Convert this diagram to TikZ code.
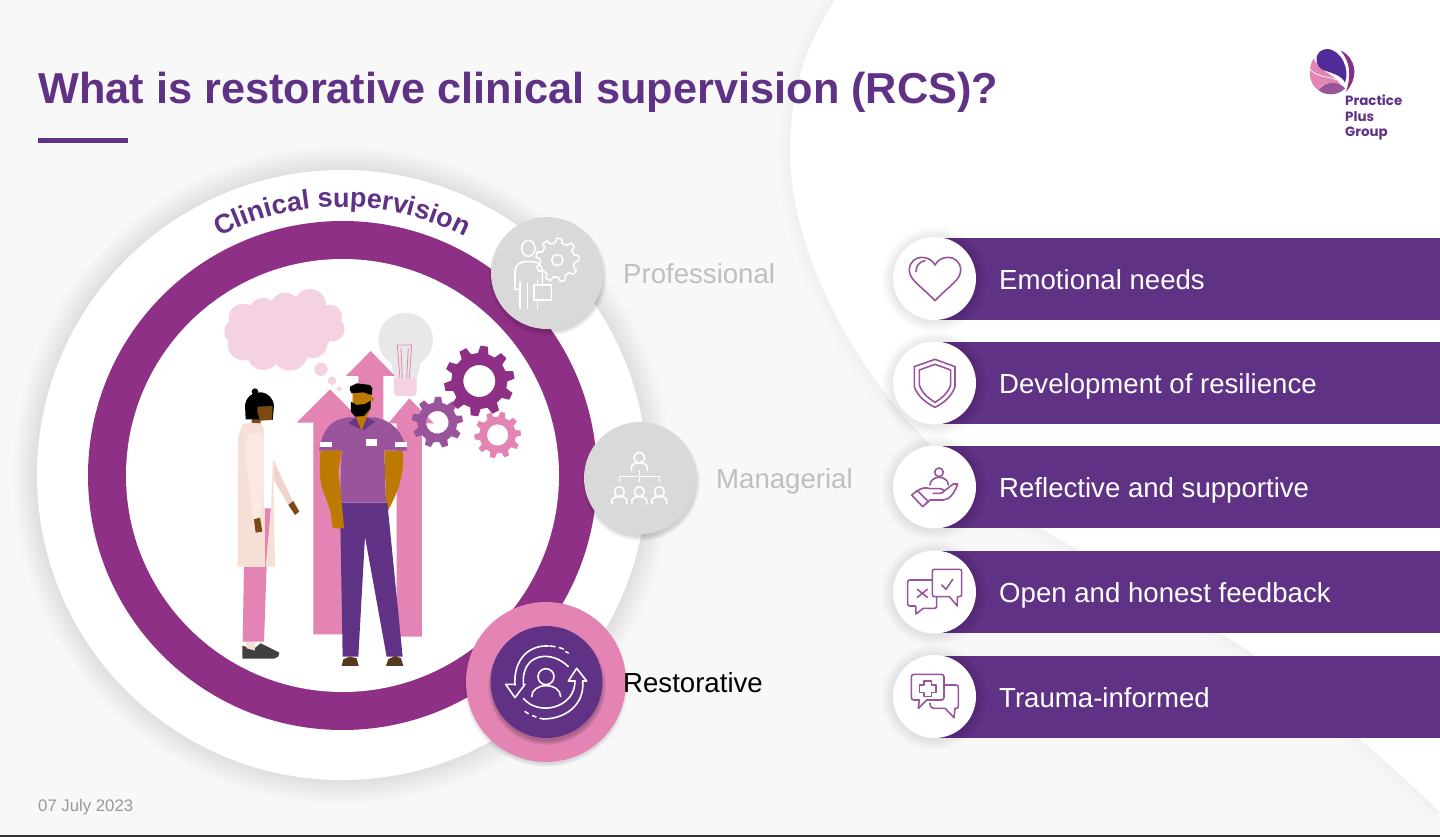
\documentclass[tikz,border=0pt]{standalone}
\usepackage{fontspec}
\setmainfont{Liberation Sans}
\newfontfamily\logofont{Poppins}
\usetikzlibrary{decorations.text}

\definecolor{deeppurple}{HTML}{5F3285}
\definecolor{ringpurple}{HTML}{8E3086}
\definecolor{midpurple}{HTML}{99549B}
\definecolor{pinkmain}{HTML}{E384B5}
\definecolor{pinkpale}{HTML}{F4D2E4}
\definecolor{greydisc}{HTML}{D9D9D9}
\definecolor{greytext}{HTML}{BFBFBF}
\definecolor{pagegrey}{HTML}{F8F8F8}
\definecolor{skinbrown}{HTML}{7B4A12}
\definecolor{skinamber}{HTML}{BD7A00}
\definecolor{coatpeach}{HTML}{F6E0D6}

\tikzset{
  disc/.style={circle,inner sep=0pt,minimum size=#1},
  bigtext/.style={anchor=base west,inner sep=0pt,font=\fontsize{27.6}{30}\selectfont},
  whitetext/.style={bigtext,text=white},
  iconline/.style={draw=midpurple,line width=1.6pt,line join=round,line cap=round},
  whiteline/.style={draw=white,line width=1.6pt,line join=round,line cap=round},
  logotext/.style={anchor=base west,inner sep=0pt,text=deeppurple,font=\logofont\bfseries\fontsize{13.4}{14}\selectfont},
}

\newcommand{\whiteedge}{(835,0) .. controls (805,45) and (790,95) .. (790,150)
  .. controls (790,230) and (830,325) .. (893,403)
  .. controls (935,455) and (985,498) .. (1040,528) -- (1222,634)
  .. controls (1285,672) and (1375,750) .. (1440,812)}
\newcommand{\softglow}[5]{\foreach \d in {1,2,...,#4} \fill[black,opacity=#5] (#1,#2) circle ({#3+\d});}
\newcommand{\gearshape}[7]{\pgfmathsetmacro{\gearstep}{360/#7}
  \path[shift={(#2,#3)},even odd rule,#1] ({-0.3*\gearstep}:#5)
    \foreach \tooth in {1,...,#7} {
      -- ({(\tooth-1-0.17)*\gearstep}:#4) -- ({(\tooth-1+0.17)*\gearstep}:#4)
      -- ({(\tooth-1+0.3)*\gearstep}:#5) -- ({(\tooth-1+0.7)*\gearstep}:#5)
    } -- cycle (0,0) circle (#6);}
\newcommand{\personmark}[3]{\draw[whiteline] (#1,#2) circle (#3);
  \draw[whiteline] (#1-1.5*#3,#2+2.45*#3) -- (#1-1.5*#3,#2+1.9*#3)
    .. controls (#1-1.5*#3,#2+1.2*#3) and (#1-0.7*#3,#2+1*#3) .. (#1,#2+1*#3)
    .. controls (#1+0.7*#3,#2+1*#3) and (#1+1.5*#3,#2+1.2*#3) .. (#1+1.5*#3,#2+1.9*#3) -- (#1+1.5*#3,#2+2.45*#3);}

\begin{document}
\begin{tikzpicture}[x=1pt,y=-1pt]
\useasboundingbox (0,0) rectangle (1440,837);
\fill[pagegrey] (0,0) rectangle (1440,837); % page
\foreach \w in {26,18,10,4} \draw[black,opacity=0.008,line width=\w pt] \whiteedge ; % page shadow
\fill[white] \whiteedge -- (1440,0) -- cycle ; % white sweep
\fill[black!80] (0,835) rectangle (1440,837); % foot line

\node[anchor=base west,inner sep=0pt,text=deeppurple,font=\bfseries\fontsize{43.3}{46}\selectfont] (title) at (38,104) {What is restorative clinical supervision (RCS)?};
\fill[deeppurple] (38,138.5) rectangle (128,143.5); % title rule
\node[anchor=base west,inner sep=0pt,text=black!40,font=\fontsize{16.75}{19}\selectfont] (datelabel) at (38,811) {07 July 2023};

% logo
\begin{scope}[shift={(1290,30)},scale=0.3333]
\fill[pinkmain] (70,85) .. controls (50,125) and (60,165) .. (85,180) .. controls (90,160) and (130,150) .. (155,170) .. controls (140,135) and (95,130) .. (70,85) -- cycle;
\draw[white,line width=0.7pt] (60,118) .. controls (85,145) and (120,138) .. (140,150);
\fill[midpurple] (85,180) .. controls (105,198) and (145,198) .. (165,175) .. controls (150,155) and (105,150) .. (85,180) -- cycle;
\fill[deeppurple!85!blue] (110,57) .. controls (75,60) and (70,100) .. (95,118) .. controls (125,130) and (155,135) .. (165,158) .. controls (180,120) and (155,58) .. (110,57) -- cycle;
\fill[ringpurple!80!deeppurple] (152,62) .. controls (195,80) and (210,140) .. (168,185) .. controls (185,135) and (180,95) .. (152,62) -- cycle;
\end{scope}
\node[logotext] (logoa) at (1345,106) {Practice};
\node[logotext] (logob) at (1345,121.5) {Plus};
\node[logotext] (logoc) at (1345,137) {Group};

% big roundel
\foreach \d in {2,4,...,24} \fill[black,opacity=0.008] (342,475) circle ({305+\d}); % roundel shadow
\fill[white] (342,475) circle (305); % outer disc
\fill[ringpurple] (342.5,475.5) circle (254.5); % ring
\fill[white] (342.5,475.5) circle (216.5); % inner disc
\path[decorate,decoration={text along path,text align=center,
  text={|\bfseries\fontsize{27}{30}\selectfont\color{deeppurple}|Clinical supervision}}]
  (342,475) ++(-120:268) arc (-120:-60:268); % arc title

% illustration, coordinates in 3x crop units
\begin{scope}[shift={(200,280)},scale=0.3333]
% thought cloud
\fill[pinkpale] (250,150) ellipse (150 and 90);
\foreach \a/\b/\r in {130/115/44,190/98/44,255/82/44,330/75/48,390/110/36,398/148/36,115/155/42,130/195/46,190/222/48,270/218/54,340/192/42}
  \fill[pinkpale] (\a,\b) circle (\r);
\fill[pinkpale] (363,268) circle (20);
\fill[pinkpale] (396,302) circle (13);
\fill[pinkpale] (418,327) circle (7);
% bulb
\fill[black!9] (617,180) circle (82);
\fill[black!9] (570,240) -- (664,240) -- (650,300) -- (585,300) -- cycle;
\fill[pinkpale] (582,295) -- (650,295) -- (650,335) .. controls (650,345) and (645,348) .. (635,348) -- (597,348) .. controls (587,348) and (582,345) .. (582,335) -- cycle;
\draw[pinkmain,line width=0.8pt] (600,295) -- (592,195) -- (635,195) -- (628,295) (607,295) -- (603,205) (620,295) -- (625,205);
% arrows
\fill[pinkmain] (475,420) -- (475,288) -- (438,288) -- (512,213) -- (585,288) -- (550,288) -- (550,420) -- cycle;
\fill[pinkmain] (340,1063) -- (340,428) -- (290,428) -- (390,328) -- (490,428) -- (430,428) -- (430,1063) -- cycle;
\fill[pinkmain] (590,1070) -- (590,430) -- (565,430) -- (628,355) -- (702,430) -- (666,430) -- (666,1070) -- cycle;
% gears
\gearshape{fill=midpurple,rotate=8}{712}{427}{77}{60}{34}{9}
\gearshape{fill=ringpurple,rotate=10}{838}{303}{106}{84}{48}{10}
\gearshape{fill=pinkmain,rotate=5}{893}{465}{70}{55}{32}{10}
% woman
\fill[black!75] (127,1097) -- (160,1108) -- (182,1090) -- (238,1118) -- (235,1130) -- (222,1136) -- (127,1136) -- cycle;
\fill[coatpeach] (137,1085) -- (165,1085) -- (165,1112) -- (140,1105) -- cycle;
\fill[pinkmain] (132,860) -- (200,860) -- (192,1085) -- (128,1085) -- cycle;
\fill[pinkmain] (195,685) -- (213,685) -- (200,860) -- (195,860) -- cycle;
\fill[coatpeach] (115,470) -- (128,432) -- (180,425) -- (191,445) -- (191,685) -- (195,685) -- (195,860) -- (113,860) -- (113,680) -- cycle;
\fill[coatpeach] (213,685) -- (219,520) -- (225,860) -- (197,860) -- cycle;
\fill[coatpeach!70!white] (135,490) .. controls (135,465) and (155,455) .. (172,458) .. controls (185,462) and (191,480) .. (191,500) -- (191,570) -- (180,718) -- (160,718) -- (135,520) -- cycle;
\fill[coatpeach!70!pinkpale!90!brown] (220,540) -- (278,663) -- (265,675) -- (222,600) -- cycle;
\fill[skinbrown] (162,718) -- (180,713) -- (187,755) -- (167,758) -- cycle;
\fill[skinbrown] (265,675) -- (280,663) -- (298,695) -- (285,705) -- cycle;
\fill[skinbrown] (155,418) -- (182,418) -- (182,430) -- (155,428) -- cycle;
\fill[black] (165,335) circle (10);
\fill[black] (137,418) -- (135,375) .. controls (140,345) and (165,335) .. (185,337) .. controls (205,340) and (220,355) .. (222,378) -- (218,420) -- cycle;
\fill[skinbrown] (172,380) -- (218,378) -- (216,420) -- (180,422) -- (172,395) -- cycle;
% man
\fill[skinamber] (553,512) -- (608,512) .. controls (615,570) and (600,625) .. (565,690) -- (558,668) -- (555,570) -- cycle;
\fill[deeppurple] (420,668) -- (562,668) -- (608,1130) -- (560,1130) -- (495,770) -- (475,1130) -- (428,1130) -- cycle;
\fill[midpurple] (357,512) .. controls (370,440) and (395,420) .. (445,412) -- (525,412) .. controls (590,425) and (610,470) .. (622,512) -- (553,512) -- (558,668) -- (420,668) -- (425,512) -- cycle;
\fill[skinamber] (362,512) -- (425,512) -- (415,575) .. controls (418,610) and (425,650) .. (432,745) -- (398,745) -- (392,695) -- (365,620) .. controls (358,590) and (358,550) .. (362,512) -- cycle;
\fill[deeppurple!85!midpurple] (445,430) -- (468,412) -- (485,452) -- (500,412) -- (525,425) -- (490,452) -- cycle;
\fill[skinamber] (458,335) -- (515,335) -- (512,385) -- (500,412) -- (485,452) -- (468,412) -- (458,395) -- cycle;
\fill[skinamber] (515,357) circle (7);
\fill[black] (453,365) -- (470,375) -- (495,372) -- (512,362) -- (512,385) -- (492,408) -- (465,410) -- (453,395) -- cycle;
\fill[black] (450,320) -- (470,310) -- (510,315) -- (517,325) -- (515,345) -- (490,337) -- (455,340) -- (450,330) -- cycle;
\fill[white] (497,478) rectangle (532,498);
\fill[white] (360,487) rectangle (397,502);
\fill[white] (584,487) rectangle (620,502);
\fill[black!55!brown] (425,1158) -- (430,1138) -- (450,1130) -- (470,1135) -- (476,1158) -- cycle;
\fill[black!55!brown] (558,1158) -- (565,1138) -- (585,1128) -- (603,1135) -- (610,1158) -- cycle;
\end{scope}

% side discs
\softglow{548}{277}{54}{5}{0.03}
\node[disc=112pt,fill=greydisc] (profdisc) at (547,273) {};
\softglow{641}{482}{54}{5}{0.03}
\node[disc=112pt,fill=greydisc] (mgrdisc) at (640,478) {};
\softglow{546}{685}{78}{4}{0.03}
\node[disc=160pt,fill=pinkmain] (restring) at (546,682) {};
\softglow{547}{686}{54}{5}{0.05}
\node[disc=112pt,fill=deeppurple] (restdisc) at (546.5,682) {};
\node[bigtext,text=greytext] (proflabel) at (623,283) {Professional};
\node[bigtext,text=greytext] (mgrlabel) at (716,488) {Managerial};
\node[bigtext,text=black] (restlabel) at (623,692) {Restorative};

% professional icon
\begin{scope}[shift={(460,200)},scale=0.3333]
\draw[whiteline] (205,145) ellipse (20 and 24);
\draw[whiteline] (180,325) -- (180,245) (203,325) -- (203,250) (232,325) -- (232,300) (232,255) -- (232,240);
\draw[whiteline] (180,268) -- (165,268) -- (165,215) .. controls (165,195) and (180,185) .. (195,185) -- (218,185) .. controls (235,185) and (247,198) .. (247,215) -- (247,255);
\draw[whiteline] (222,255) rectangle (275,300);
\gearshape{whiteline,rotate=5}{292}{180}{65}{52}{17}{9}
\end{scope}

% managerial icon
\begin{scope}[shift={(460,200)},scale=0.3333]
\personmark{538}{773}{16}
\draw[whiteline] (538,812) -- (538,845) (478,845) -- (478,830) -- (598,830) -- (598,845);
\personmark{478}{875}{15}
\personmark{538}{875}{15}
\personmark{598}{875}{15}
\end{scope}

% restorative icon
\begin{scope}[shift={(460,595)},scale=0.3333]
\draw[whiteline] (265,153) .. controls (205,150) and (160,195) .. (165,270);
\draw[whiteline] (325,215) .. controls (275,165) and (195,175) .. (190,250) -- (190,268);
\draw[whiteline] (165,268) -- (137,268) -- (165,308) -- (195,268) -- (190,268);
\draw[whiteline] (270,153) -- (285,155) (298,158) -- (310,162) (317,170) -- (325,174);
\draw[whiteline] (250,372) .. controls (315,372) and (375,330) .. (368,258);
\draw[whiteline] (190,310) .. controls (235,365) and (345,340) .. (345,258);
\draw[whiteline] (325,258) -- (350,220) -- (380,258) -- (368,258) (345,258) -- (325,258);
\draw[whiteline] (195,350) -- (205,356) (218,362) -- (228,366) (240,370) -- (250,372);
\draw[whiteline] (258,245) circle (24);
\draw[whiteline] (215,305) .. controls (215,285) and (235,272) .. (258,272) .. controls (282,272) and (302,285) .. (302,305);
\end{scope}

% right hand bars
\foreach \yc/\lbl/\nm in {278.5/Emotional needs/emo,383/Development of resilience/dev,487/Reflective and supportive/ref,592/Open and honest feedback/ope,696.5/Trauma-informed/tra}{
  \fill[deeppurple] (935,\yc-41) rectangle (1440,\yc+41); % bar
  \softglow{934.5}{\yc+1}{41}{12}{0.006}
  \node[disc=83pt,fill=white] (\nm disc) at (934.5,\yc) {};
  \node[whitetext] (\nm label) at (999,\yc+10.5) {\lbl};
}

% heart, shield, hand icons
\begin{scope}[shift={(880,230)},scale=0.3333]
\draw[iconline] (165,212) .. controls (120,165) and (88,150) .. (88,120) .. controls (88,95) and (108,82) .. (125,82) .. controls (145,82) and (158,92) .. (165,105) .. controls (172,92) and (185,82) .. (205,82) .. controls (222,82) and (242,95) .. (242,120) .. controls (242,150) and (210,165) .. (165,212) -- cycle;
\draw[iconline] (108,125) .. controls (108,105) and (120,95) .. (135,92);
\draw[iconline] (165,388) -- (225,410) -- (225,470) .. controls (215,500) and (190,520) .. (165,532) .. controls (140,520) and (113,500) .. (103,470) -- (103,410) -- cycle;
\draw[iconline] (165,403) -- (212,420) -- (212,465) .. controls (205,488) and (185,505) .. (165,517) .. controls (145,505) and (125,488) .. (118,465) -- (118,420) -- cycle;
\draw[iconline] (177,727) circle (13);
\draw[iconline] (150,765) .. controls (150,750) and (165,742) .. (177,742) .. controls (190,742) and (205,750) .. (205,765);
\draw[iconline] (95,795) -- (112,782) -- (145,815) -- (128,830) -- cycle;
\draw[iconline] (108,785) .. controls (125,772) and (140,772) .. (150,776) -- (180,776) .. controls (195,776) and (195,790) .. (180,790) -- (160,790);
\draw[iconline] (190,785) -- (220,762) -- (233,762) .. controls (225,785) and (210,810) .. (190,810) -- (150,810) -- (138,820);
\end{scope}

% chat icons
\begin{scope}[shift={(880,540)},scale=0.3333]
\draw[iconline] (157,120) -- (90,120) .. controls (85,120) and (83,122) .. (83,127) -- (83,190) .. controls (83,196) and (85,198) .. (90,198) -- (107,198) -- (108,222) -- (130,205) -- (163,205) .. controls (168,205) and (170,202) .. (170,198) -- (170,170);
\draw[iconline] (164,88) -- (238,88) .. controls (243,88) and (245,90) .. (245,95) -- (245,163) .. controls (245,168) and (243,170) .. (238,170) -- (232,170) -- (232,198) -- (208,170) -- (164,170) .. controls (159,170) and (157,168) .. (157,163) -- (157,95) .. controls (157,90) and (159,88) .. (164,88) -- cycle;
\draw[iconline] (112,148) -- (142,172) (142,148) -- (112,172);
\draw[iconline] (185,135) -- (198,148) -- (218,118);
\draw[iconline] (102,403) -- (184,403) .. controls (189,403) and (192,406) .. (192,411) -- (192,472) .. controls (192,477) and (189,480) .. (184,480) -- (140,480) -- (115,505) -- (118,480) -- (102,480) .. controls (97,480) and (94,477) .. (94,472) -- (94,411) .. controls (94,406) and (97,403) .. (102,403) -- cycle;
\draw[iconline] (132,423) -- (154,423) -- (154,435) -- (168,435) -- (168,457) -- (154,457) -- (154,469) -- (132,469) -- (132,457) -- (118,457) -- (118,435) -- (132,435) -- cycle;
\draw[iconline] (195,435) -- (228,435) .. controls (233,435) and (235,438) .. (235,443) -- (235,498) .. controls (235,503) and (233,505) .. (228,505) -- (225,505) -- (222,533) -- (195,505) -- (160,505) .. controls (155,505) and (150,500) .. (150,490);
\end{scope}
\end{tikzpicture}
\end{document}
